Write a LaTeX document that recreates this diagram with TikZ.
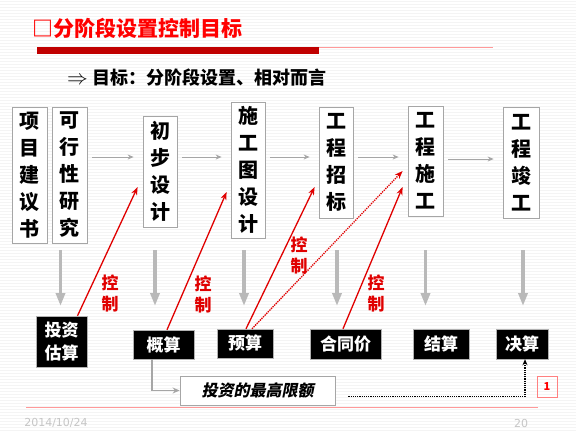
\documentclass[tikz,border=0pt]{standalone}
\usepackage{fontspec}
\setmainfont{Noto Sans CJK SC}
\newfontfamily\slantcjk[FakeSlant=0.2]{Noto Sans CJK SC}
\newfontfamily\datefont{DejaVu Sans}
\usetikzlibrary{arrows.meta,calc}
\definecolor{titlered}{HTML}{FF0000}
\definecolor{barred}{HTML}{C00000}
\definecolor{ctrlred}{HTML}{E00000}

\begin{document}
\begin{tikzpicture}[x=1pt,y=-1pt,
  stage/.style={draw=gray!70, line width=0.8pt, fill=white, inner sep=0pt, align=center,
                font=\bfseries\fontsize{20}{27}\selectfont},
  cost/.style={fill=black, draw=gray!60, text=white, inner sep=0pt, align=center,
               font=\bfseries\fontsize{17}{23}\selectfont},
  flow/.style={-{Stealth[length=6pt,width=5pt]}, gray!70, line width=0.8pt, shorten <=5pt, shorten >=9pt},
  down/.style={-{Triangle[length=13pt,width=9pt]}, gray!55, line width=3.5pt},
  ctrl/.style={-{Stealth[length=8pt,width=6pt]}, ctrlred, line width=1.3pt},
  ctrllabel/.style={text=ctrlred, font=\bfseries\fontsize{17}{21}\selectfont, align=center, inner sep=0pt}
]
\useasboundingbox (0,0) rectangle (576,432);
\fill[white] (0,0) rectangle (576,432);
\foreach \y in {1.5,4.5,...,432} \draw[gray!9, line width=1.2pt] (0,\y) -- (576,\y);

% title and goal
\node[anchor=west, inner sep=0pt, text=titlered, font=\bfseries\fontsize{21}{21}\selectfont] (title) at (32,28) {□分阶段设置控制目标};
\draw[red!40, line width=1pt] (37,47) -- (493,47);
\fill[barred] (37,47) rectangle (319,54);
\node[anchor=west, inner sep=0pt, font=\bfseries\fontsize{18}{18}\selectfont] (goal) at (67,78) {{\fontsize{21}{21}\selectfont$\Rightarrow$} 目标：分阶段设置、相对而言};

% stages
\node[stage, minimum width=35pt, minimum height=136pt] (proposal) at (29.5,175) {项\\目\\建\\议\\书};
\node[stage, minimum width=35pt, minimum height=136pt] (feasible) at (69.5,175) {可\\行\\性\\研\\究};
\node[stage, minimum width=34pt, minimum height=111pt] (prelim) at (160,171.5) {初\\步\\设\\计};
\node[stage, minimum width=34pt, minimum height=136pt] (drawing) at (248,170) {施\\工\\图\\设\\计};
\node[stage, minimum width=34pt, minimum height=111pt] (tender) at (336,162.5) {工\\程\\招\\标};
\node[stage, minimum width=35pt, minimum height=110pt] (build) at (425.5,161) {工\\程\\施\\工};
\node[stage, minimum width=36pt, minimum height=111pt] (finish) at (521,162.5) {工\\程\\竣\\工};

\coordinate (row) at (0,157);
\draw[flow] (feasible.east |- row) -- (prelim.west |- row);
\draw[flow] (prelim.east |- row) -- (drawing.west |- row);
\draw[flow] (drawing.east |- row) -- (tender.west |- row);
\draw[flow] (tender.east |- row) -- (build.west |- row);
\draw[flow] ([yshift=-2pt]build.east |- row) -- ([yshift=-2pt]finish.west |- row);

% cost figures
\node[cost, minimum width=51pt, minimum height=51pt] (estimate) at (61.5,341.5) {投资\\估算};
\node[cost, minimum width=61pt, minimum height=29pt] (budget) at (163.5,344.5) {概算};
\node[cost, minimum width=56pt, minimum height=29pt] (drawbudget) at (245,343.5) {预算};
\node[cost, minimum width=71pt, minimum height=30pt] (contract) at (345.5,344) {合同价};
\node[cost, minimum width=56pt, minimum height=30pt] (settle) at (441,344) {结算};
\node[cost, minimum width=52pt, minimum height=30pt] (final) at (522,344) {决算};

\coordinate (dtop) at (0,250);
\coordinate (dbot) at (0,306);
\draw[down] ([xshift=-1pt]estimate.north |- dtop) -- ([xshift=-1pt]estimate.north |- dbot);
\draw[down] ([xshift=-5pt]prelim.south |- dtop) -- ([xshift=-5pt]prelim.south |- dbot);
\draw[down] ([xshift=-4pt]drawing.south |- dtop) -- ([xshift=-4pt]drawing.south |- dbot);
\draw[down] ([xshift=1pt]tender.south |- dtop) -- ([xshift=1pt]tender.south |- dbot);
\draw[down] (build.south |- dtop) -- (build.south |- dbot);
\draw[down] ([xshift=2pt]finish.south |- dtop) -- ([xshift=2pt]finish.south |- dbot);

% control
\draw[ctrl] ([xshift=16pt]estimate.north) -- ([xshift=-5pt,yshift=-15.5pt]prelim.west);
\draw[ctrl] ([xshift=3.5pt]budget.north) -- ([xshift=-4pt,yshift=-22pt]drawing.west);
\draw[ctrl] ([xshift=1pt]drawbudget.north) -- ([xshift=-4pt,yshift=-24.5pt]tender.west);
\draw[ctrl, densely dotted] ([xshift=7pt]drawbudget.north) -- ([xshift=-5pt,yshift=-10pt]build.west);
\draw[ctrl] ([xshift=-2.5pt]contract.north) -- ([xshift=-5pt,yshift=-26pt]build.west);
\node[ctrllabel] (c1) at (110,293) {控\\制};
\node[ctrllabel] (c2) at (203,294) {控\\制};
\node[ctrllabel] (c3) at (299,255) {控\\制};
\node[ctrllabel] (c4) at (376,293) {控\\制};

% upper limit
\node[draw=gray!70, line width=0.8pt, fill=white, minimum width=155pt, minimum height=29pt, inner sep=0pt,
      font=\slantcjk\bfseries\fontsize{16}{16}\selectfont] (limit) at (257.5,390.5) {投资的最高限额};
\draw[gray!70, line width=1.6pt, -{Stealth[length=7pt,width=6pt]}] ([xshift=-11.5pt]budget.south) |- (limit.west);
\draw[densely dotted, line width=1.2pt, -{Stealth[length=6pt,width=5pt]}] ([xshift=13pt,yshift=-6pt]limit.east) -| ([xshift=3pt]final.south);
\node[draw=red!50, line width=0.8pt, minimum width=20pt, minimum height=21pt, inner sep=0pt, text=red,
      font=\bfseries\fontsize{11}{11}\selectfont] (pageref) at (547,386.5) {1};

% footer
\draw[red!40, line width=1pt] (26,407) -- (538,407);
\node[text=gray!45, font=\datefont\fontsize{11}{11}\selectfont, inner sep=0pt] (date) at (56,423) {2014/10/24};
\node[text=gray!45, font=\datefont\fontsize{11}{11}\selectfont, inner sep=0pt] (page) at (521,423) {20};
\end{tikzpicture}
\end{document}
